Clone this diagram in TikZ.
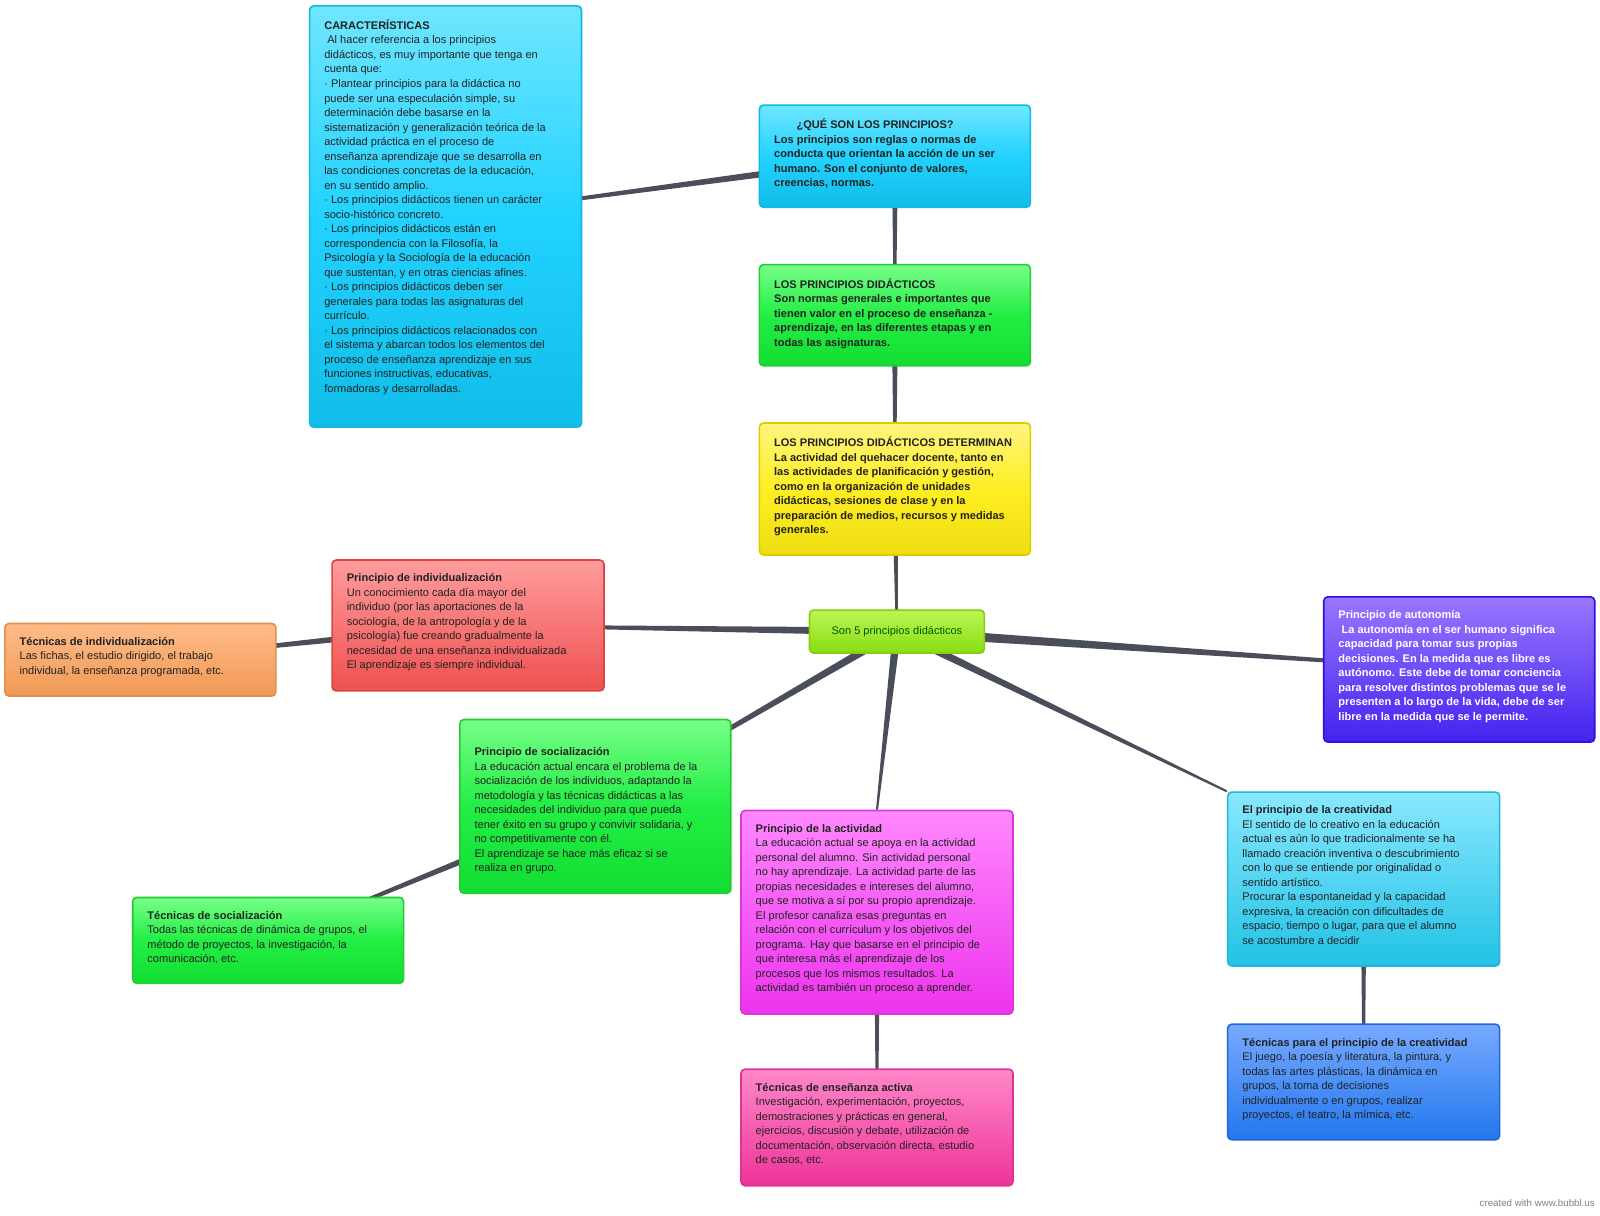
\documentclass[tikz,border=0pt]{standalone}
\usepackage{fontspec}
\setmainfont{Liberation Sans}
\usetikzlibrary{calc,backgrounds}
\definecolor{ink}{HTML}{222222}
\definecolor{con}{HTML}{4A4E5A}
\definecolor{cyD}{HTML}{11B8E0}\definecolor{cyT}{HTML}{6FE6FF}\definecolor{cyB}{HTML}{10BDE8}\definecolor{cyM}{HTML}{22D2FF}
\definecolor{grD}{HTML}{22CC33}\definecolor{grT}{HTML}{77FF88}\definecolor{grB}{HTML}{11DD33}\definecolor{grM}{HTML}{22EE44}
\definecolor{yeD}{HTML}{DDCC00}\definecolor{yeT}{HTML}{FFF580}\definecolor{yeB}{HTML}{EEDD11}\definecolor{yeM}{HTML}{FFEE22}
\definecolor{liD}{HTML}{88CC11}\definecolor{liT}{HTML}{BBF555}\definecolor{liB}{HTML}{88DD11}
\definecolor{reD}{HTML}{DD4444}\definecolor{reT}{HTML}{FF9C9C}\definecolor{reB}{HTML}{EE5050}
\definecolor{orD}{HTML}{E09050}\definecolor{orT}{HTML}{FFBB88}\definecolor{orB}{HTML}{F09955}
\definecolor{puD}{HTML}{3311DD}\definecolor{puT}{HTML}{9977FF}\definecolor{puB}{HTML}{4422EE}
\definecolor{maD}{HTML}{DD33DD}\definecolor{maT}{HTML}{FF88FF}\definecolor{maB}{HTML}{EE33EE}
\definecolor{piD}{HTML}{DD3399}\definecolor{piT}{HTML}{FF88C8}\definecolor{piB}{HTML}{EE3399}
\definecolor{crD}{HTML}{22B5D5}\definecolor{crT}{HTML}{88E8FF}\definecolor{crB}{HTML}{22C2E5}
\definecolor{blD}{HTML}{2266DD}\definecolor{blT}{HTML}{77AAFF}\definecolor{blB}{HTML}{2277EE}
\tikzset{
 card/.style={anchor=north west,rounded corners=4pt,line width=1.6pt,inner sep=0pt},
 txt/.style={anchor=north west,align=left,inner sep=0pt,font=\fontsize{10.8}{14.2}\selectfont,text=ink},
 btxt/.style={txt,font=\fontsize{10.8}{14.2}\selectfont\bfseries},
 cyanc/.style={card,draw=cyD,top color=cyT,bottom color=cyB,middle color=cyM},
 greenc/.style={card,draw=grD,top color=grT,bottom color=grB,middle color=grM},
 yelc/.style={card,draw=yeD,top color=yeT,bottom color=yeB,middle color=yeM},
 limec/.style={card,draw=liD,top color=liT,bottom color=liB},
 redc/.style={card,draw=reD,top color=reT,bottom color=reB},
 orac/.style={card,draw=orD,top color=orT,bottom color=orB},
 purc/.style={card,draw=puD,top color=puT,bottom color=puB},
 magc/.style={card,draw=maD,top color=maT,bottom color=maB},
 pinkc/.style={card,draw=piD,top color=piT,bottom color=piB},
 creac/.style={card,draw=crD,top color=crT,bottom color=crB},
 bluec/.style={card,draw=blD,top color=blT,bottom color=blB},
}
\newcommand{\taper}[3]{\fill[con] ($(#1)!#3!90:(#2)$) -- ($(#1)!#3!-90:(#2)$) -- ($(#2)!1pt!90:(#1)$) -- ($(#2)!1pt!-90:(#1)$) -- cycle;}
\begin{document}
\begin{tikzpicture}[x=1pt,y=-1pt]
\useasboundingbox (0,0) rectangle (1565,1189);
% cards
\node[cyanc,minimum width=266,minimum height=412] (car) at (302,5) {};
\node[cyanc,minimum width=265,minimum height=100] (que) at (742,102) {};
\node[greenc,minimum width=265,minimum height=99] (did) at (742,258) {};
\node[yelc,minimum width=265,minimum height=129] (det) at (742,413) {};
\node[limec,minimum width=171,minimum height=42] (cen) at (791,596) {};
\node[redc,minimum width=266,minimum height=128] (ind) at (324,547) {};
\node[orac,minimum width=265,minimum height=71] (tind) at (4,609) {};
\node[purc,minimum width=265,minimum height=142] (aut) at (1294,583) {};
\node[greenc,minimum width=265,minimum height=170] (soc) at (449,703) {};
\node[greenc,minimum width=265,minimum height=84] (tsoc) at (129,877) {};
\node[magc,minimum width=266,minimum height=199] (act) at (724,792) {};
\node[pinkc,minimum width=266,minimum height=114] (tact) at (724,1045) {};
\node[creac,minimum width=266,minimum height=170] (cre) at (1200,774) {};
\node[bluec,minimum width=266,minimum height=113] (tcre) at (1200,1001) {};
% connectors
\begin{scope}[on background layer]
\fill[white] (0,0) rectangle (1565,1189);
\taper{que.center}{car.center}{4pt}
\taper{que.center}{did.center}{3pt}
\taper{did.center}{det.center}{3pt}
\taper{det.center}{cen.center}{3pt}
\taper{cen.center}{ind.center}{4pt}
\taper{ind.center}{tind.center}{4pt}
\taper{cen.center}{aut.center}{5pt}
\taper{cen.center}{soc.center}{4pt}
\taper{soc.center}{tsoc.center}{4pt}
\taper{cen.center}{act.north}{4pt}
\taper{act.center}{tact.center}{3pt}
\taper{cen.center}{cre.north west}{4pt}
\taper{cre.center}{tcre.center}{3pt}
\end{scope}
% texts
\node[txt] at ($(car.north west)+(15,14)$) {\textbf{CARACTERÍSTICAS}\\
\ Al hacer referencia a los principios\\didácticos, es muy importante que tenga en\\cuenta que:\\
· Plantear principios para la didáctica no\\puede ser una especulación simple, su\\determinación debe basarse en la\\sistematización y generalización teórica de la\\actividad práctica en el proceso de\\enseñanza aprendizaje que se desarrolla en\\las condiciones concretas de la educación,\\en su sentido amplio.\\
· Los principios didácticos tienen un carácter\\socio-histórico concreto.\\
· Los principios didácticos están en\\correspondencia con la Filosofía, la\\Psicología y la Sociología de la educación\\que sustentan, y en otras ciencias afines.\\
· Los principios didácticos deben ser\\generales para todas las asignaturas del\\currículo.\\
· Los principios didácticos relacionados con\\el sistema y abarcan todos los elementos del\\proceso de enseñanza aprendizaje en sus\\funciones instructivas, educativas,\\formadoras y desarrolladas.};
\node[btxt] at ($(que.north west)+(15,14)$) {\hspace*{22pt}¿QUÉ SON LOS PRINCIPIOS?\\Los principios son reglas o normas de\\conducta que orientan la acción de un ser\\humano. Son el conjunto de valores,\\creencias, normas.};
\node[btxt] at ($(did.north west)+(15,14)$) {LOS PRINCIPIOS DIDÁCTICOS\\Son normas generales e importantes que\\tienen valor en el proceso de enseñanza -\\aprendizaje, en las diferentes etapas y en\\todas las asignaturas.};
\node[btxt] at ($(det.north west)+(15,14)$) {LOS PRINCIPIOS DIDÁCTICOS DETERMINAN\\La actividad del quehacer docente, tanto en\\las actividades de planificación y gestión,\\como en la organización de unidades\\didácticas, sesiones de clase y en la\\preparación de medios, recursos y medidas\\generales.};
\node[txt,anchor=center,text=green!35!black] at (cen.center) {Son 5 principios didácticos};
\node[txt] at ($(ind.north west)+(15,14)$) {\textbf{Principio de individualización}\\Un conocimiento cada día mayor del\\individuo (por las aportaciones de la\\sociología, de la antropología y de la\\psicología) fue creando gradualmente la\\necesidad de una enseñanza individualizada\\El aprendizaje es siempre individual.};
\node[txt] at ($(tind.north west)+(15,14)$) {\textbf{Técnicas de individualización}\\Las fichas, el estudio dirigido, el trabajo\\individual, la enseñanza programada, etc.};
\node[btxt,text=white] at ($(aut.north west)+(15,14)$) {Principio de autonomía\\\ La autonomía en el ser humano significa\\capacidad para tomar sus propias\\decisiones. En la medida que es libre es\\autónomo. Este debe de tomar conciencia\\para resolver distintos problemas que se le\\presenten a lo largo de la vida, debe de ser\\libre en la medida que se le permite.};
\node[txt] at ($(soc.north west)+(15,28)$) {\textbf{Principio de socialización}\\La educación actual encara el problema de la\\socialización de los individuos, adaptando la\\metodología y las técnicas didácticas a las\\necesidades del individuo para que pueda\\tener éxito en su grupo y convivir solidaria, y\\no competitivamente con él.\\El aprendizaje se hace más eficaz si se\\realiza en grupo.};
\node[txt] at ($(tsoc.north west)+(15,14)$) {\textbf{Técnicas de socialización}\\Todas las técnicas de dinámica de grupos, el\\método de proyectos, la investigación, la\\comunicación, etc.};
\node[txt] at ($(act.north west)+(15,14)$) {\textbf{Principio de la actividad}\\La educación actual se apoya en la actividad\\personal del alumno. Sin actividad personal\\no hay aprendizaje. La actividad parte de las\\propias necesidades e intereses del alumno,\\que se motiva a sí por su propio aprendizaje.\\El profesor canaliza esas preguntas en\\relación con el currículum y los objetivos del\\programa. Hay que basarse en el principio de\\que interesa más el aprendizaje de los\\procesos que los mismos resultados. La\\actividad es también un proceso a aprender.};
\node[txt] at ($(tact.north west)+(15,14)$) {\textbf{Técnicas de enseñanza activa}\\Investigación, experimentación, proyectos,\\demostraciones y prácticas en general,\\ejercicios, discusión y debate, utilización de\\documentación, observación directa, estudio\\de casos, etc.};
\node[txt] at ($(cre.north west)+(15,14)$) {\textbf{El principio de la creatividad}\\El sentido de lo creativo en la educación\\actual es aún lo que tradicionalmente se ha\\llamado creación inventiva o descubrimiento\\con lo que se entiende por originalidad o\\sentido artístico.\\Procurar la espontaneidad y la capacidad\\expresiva, la creación con dificultades de\\espacio, tiempo o lugar, para que el alumno\\se acostumbre a decidir};
\node[txt] at ($(tcre.north west)+(15,14)$) {\textbf{Técnicas para el principio de la creatividad}\\El juego, la poesía y literatura, la pintura, y\\todas las artes plásticas, la dinámica en\\grupos, la toma de decisiones\\individualmente o en grupos, realizar\\proyectos, el teatro, la mímica, etc.};
\node[txt,anchor=east,text=gray,font=\fontsize{9.5}{10}\selectfont] (foot) at (1560,1177) {created with www.bubbl.us};
\end{tikzpicture}
\end{document}
